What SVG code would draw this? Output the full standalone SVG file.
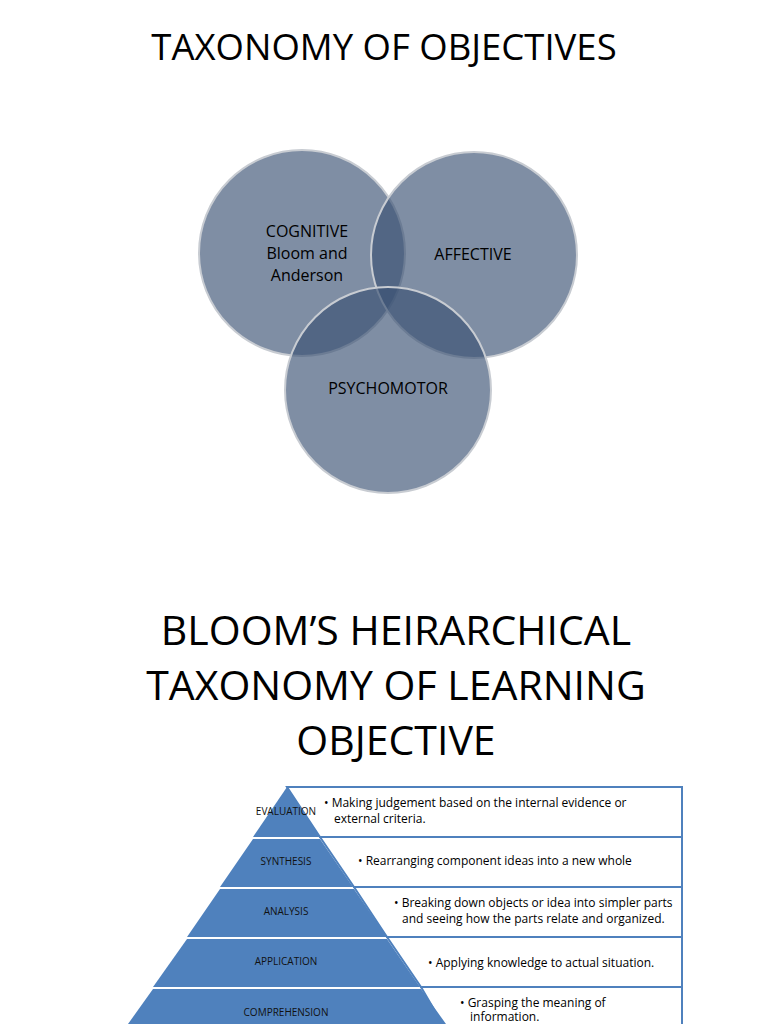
<svg xmlns="http://www.w3.org/2000/svg" width="768" height="1024" viewBox="0 0 768 1024">
<style>
text{font-family:"Open Sans","Liberation Sans",sans-serif;fill:#000}
.t{font-size:36.5px;text-anchor:middle}
.c{font-size:16px;text-anchor:middle}
.p{font-size:10px;text-anchor:middle;fill:#111}
.d{font-size:12px}
.circ{fill:#3b5273;fill-opacity:0.65;stroke:#c8ccd2;stroke-width:2}
</style>
<rect width="768" height="1024" fill="#fff"/>
<text class="t" x="384" y="60">TAXONOMY OF OBJECTIVES</text>
<g id="cognitive"><circle class="circ" cx="302" cy="253" r="103"/></g>
<g id="affective"><circle class="circ" cx="474" cy="255" r="103"/></g>
<g id="psychomotor"><circle class="circ" cx="388" cy="390" r="103"/></g>
<text class="c" x="307" y="237">COGNITIVE</text>
<text class="c" x="307" y="259">Bloom and</text>
<text class="c" x="307" y="281">Anderson</text>
<text class="c" x="473" y="260">AFFECTIVE</text>
<text class="c" x="388" y="394">PSYCHOMOTOR</text>
<text class="t" style="font-size:41px" x="396" y="645">BLOOM’S HEIRARCHICAL</text>
<text class="t" style="font-size:41px" x="396" y="700">TAXONOMY OF LEARNING</text>
<text class="t" style="font-size:41px" x="396" y="755">OBJECTIVE</text>
<g id="boxes" fill="#fff" stroke="#4f81bd" stroke-width="2">
<polygon points="287,787 682,787 682,837 320,837"/>
<polygon points="320,837 682,837 682,887 354,887"/>
<polygon points="354,887 682,887 682,937 387,937"/>
<polygon points="387,937 682,937 682,987 421,987"/>
<polygon points="421,987 682,987 682,1030 446,1030"/>
</g>
<g id="pyramid" fill="#4f81bd">
<polygon points="287,787 320,837 253,837"/>
<polygon points="253,839 320,839 353,887 220,887"/>
<polygon points="220,889 354,889 387,937 187,937"/>
<polygon points="187,939 387,939 420,987 153,987"/>
<polygon points="153,989 421,989 446,1024 128,1024"/>
</g>
<text class="p" x="286" y="815">EVALUATION</text>
<text class="p" x="286" y="865">SYNTHESIS</text>
<text class="p" x="286" y="915">ANALYSIS</text>
<text class="p" x="286" y="965">APPLICATION</text>
<text class="p" x="286" y="1016">COMPREHENSION</text>
<text class="d" x="324" y="807">• Making judgement based on the internal evidence or</text>
<text class="d" x="334" y="823">external criteria.</text>
<text class="d" x="358" y="865">• Rearranging component ideas into a new whole</text>
<text class="d" x="394" y="907">• Breaking down objects or idea into simpler parts</text>
<text class="d" x="402" y="923">and seeing how the parts relate and organized.</text>
<text class="d" x="428" y="967">• Applying knowledge to actual situation.</text>
<text class="d" x="460" y="1007">• Grasping the meaning of</text>
<text class="d" x="470" y="1021">information.</text>
</svg>
